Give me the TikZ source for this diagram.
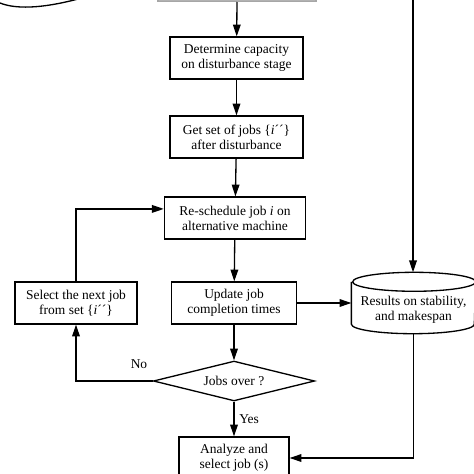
\documentclass[tikz,border=0pt]{standalone}
\usepackage{fontspec}
\setmainfont{Liberation Serif}
\usetikzlibrary{shapes.geometric,arrows.meta}
\begin{document}
\begin{tikzpicture}[x=0.0253cm, y=-0.0253cm, line width=0.95pt,
    >={Triangle[length=8.5pt,width=5.5pt]},
    txt/.style={font=\fontsize{9.7pt}{10.8pt}\selectfont},
    box/.style={txt, draw, rectangle, align=center, inner sep=0pt, minimum height=1.06cm}]
    \useasboundingbox (0,0) rectangle (474,474);
    \clip (0,0) rectangle (474,474);

    % Blocos do topo (cortados)
    \node[draw=gray!70, fill=gray!60, minimum width=4cm, minimum height=1cm, anchor=south] (top) at (237,2) {};
    \draw (0,3) .. controls (15,9) and (40,9) .. (78,-1);
    \coordinate (rtop) at (413,0);

    % Caixas
    \node[box, minimum width=3.37cm] (cap) at (236.5,58) {Determine capacity\\on disturbance stage};
    \node[box, minimum width=3.37cm] (jobs) at (236.5,137) {Get set of jobs \{\textit{i}´´\}\\after disturbance};
    \node[box, minimum width=3.57cm] (resch) at (235,218) {Re-schedule job \textit{i} on\\alternative machine};
    \node[box, minimum width=3.16cm] (upd) at (234,303) {Update job\\completion times};
    \node[box, minimum width=3.09cm] (sel) at (76,303) {Select the next job\\from set \{\textit{i}´´\}};
    \node[txt, draw, diamond, aspect=4, inner sep=0pt, minimum width=4.08cm, minimum height=1.01cm] (over) at (234,381) {Jobs over ?};
    \node[box, minimum width=2.78cm] (ana) at (234,458) {Analyze and\\select job (s)};

    % Cilindro dos resultados
    \node[minimum width=3.11cm, minimum height=1.52cm, inner sep=0pt] (res) at (413.5,303) {};
    \node[txt, align=center] (restxt) at (413.5,310) {Results on stability,\\and makespan};
    \draw ([yshift=-0.24cm]res.north west) -- ([yshift=0.24cm]res.south west)
        arc[start angle=180, end angle=360, x radius=1.555cm, y radius=0.24cm]
        -- ([yshift=-0.24cm]res.north east)
        arc[start angle=0, end angle=360, x radius=1.555cm, y radius=0.24cm];

    % Setas principais
    \draw[->] (top.south) -- (cap);
    \draw[->] (cap) -- (jobs);
    \draw[->] (jobs) -- (resch);
    \draw[->] (resch) -- (upd);
    \draw[->] (upd) -- (over);
    \draw[->] (over) -- node[txt, right] (yes) {Yes} (ana);

    % Laço do "No"
    \draw[->] (over.west) -| (sel.south);
    \node[txt] (no) at (139,364) {No};
    \draw[->] (sel.north) |- ([yshift=0.23cm]resch.west);

    % Resultados
    \draw[->] (upd.east) -- (upd.east -| res.west);
    \draw[->] (rtop) -- (rtop |- res.north);
    \draw[->] (res.south) |- (ana.east);
\end{tikzpicture}
\end{document}
